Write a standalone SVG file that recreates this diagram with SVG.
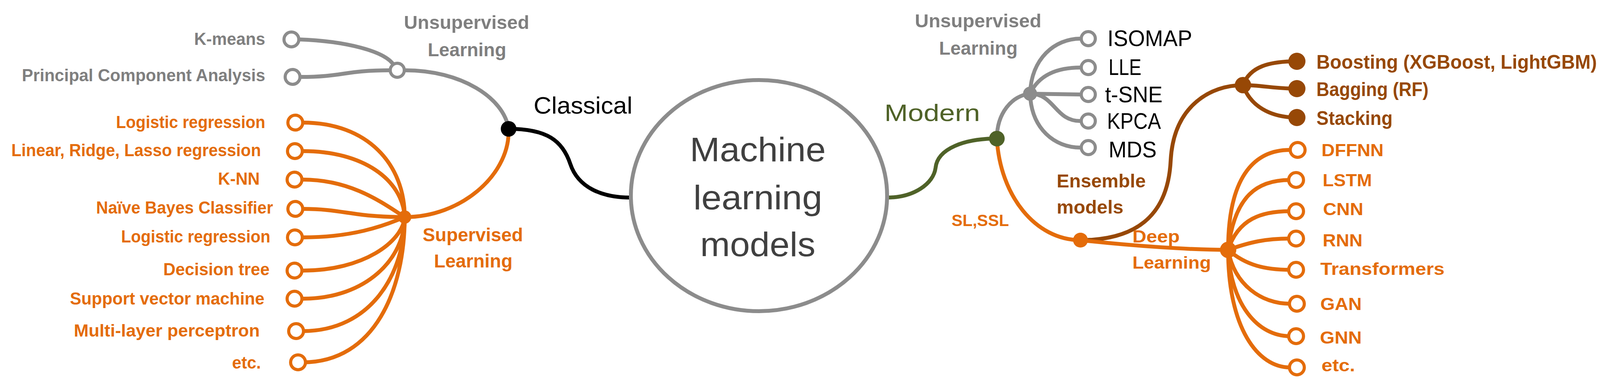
<svg xmlns="http://www.w3.org/2000/svg" width="4115" height="1004" viewBox="0 0 4115 1004">
<style>
text{font-family:"Liberation Sans",Arial,sans-serif;}
.b{font-weight:bold;}
.gt{fill:#7f7f7f;}
.ot{fill:#e46c0a;}
.bt{fill:#974806;}
.l{fill:none;stroke-width:10;stroke-linecap:round;}
.g{stroke:#8c8c8c;}
.o{stroke:#e46c0a;}
.k{stroke:#000;}
.br{stroke:#974806;}
.gr{stroke:#4f6228;}
.oc{fill:#fff;stroke-width:8;}
</style>
<g id="connectors">
<path class="l g" d="M766,101 C880,105 990,130 1010,170"/>
<path class="l g" d="M769,197 C880,197 880,180 1000,180"/>
<path class="l g" d="M1037,180 C1180,180 1290,250 1302,330"/>
<path class="l o" d="M1036,556 C1180,556 1300,450 1302,340"/>
<path class="l k" d="M1302,330 C1400,330 1440,360 1460,420 C1480,480 1540,506 1614,506"/>
<path class="l o" d="M775,314 C940,314 1036,420 1036,556"/>
<path class="l o" d="M775,387 C930,387 1030,460 1036,556"/>
<path class="l o" d="M775,460 C900,460 980,520 1036,556"/>
<path class="l o" d="M775,535 C880,535 900,556 1036,556"/>
<path class="l o" d="M775,608 C900,608 980,580 1036,556"/>
<path class="l o" d="M775,693 C930,693 1030,620 1036,556"/>
<path class="l o" d="M775,765 C940,765 1036,660 1036,556"/>
<path class="l o" d="M775,848 C950,848 1036,700 1036,556"/>
<path class="l o" d="M775,928 C960,928 1036,740 1036,556"/>
<path class="l gr" d="M2271,506 C2340,506 2390,470 2395,430 C2400,380 2470,355 2552,355"/>
<path class="l g" d="M2552,355 C2552,290 2590,245 2637,240"/>
<path class="l g" d="M2637,240 C2640,150 2700,99 2766,99"/>
<path class="l g" d="M2637,240 C2660,190 2710,173 2766,173"/>
<path class="l g" d="M2637,240 L2766,242"/>
<path class="l g" d="M2637,240 C2700,240 2700,310 2766,310"/>
<path class="l g" d="M2637,240 C2640,330 2700,378 2766,378"/>
<path class="l o" d="M2552,355 C2560,500 2650,615 2766,615"/>
<path class="l br" d="M2766,615 C2900,615 2990,560 2997,410 C3005,270 3100,218 3182,218"/>
<path class="l br" d="M3182,218 C3200,170 3250,157 3320,157"/>
<path class="l br" d="M3182,218 C3230,218 3260,227 3320,227"/>
<path class="l br" d="M3182,218 C3200,270 3250,301 3320,301"/>
<path class="l o" d="M2766,615 C2900,630 3050,640 3144,640"/>
<path class="l o" d="M3144,640 C3144,440 3220,384 3302,384"/>
<path class="l o" d="M3144,640 C3160,500 3220,461 3302,461"/>
<path class="l o" d="M3144,640 C3170,560 3230,541 3302,541"/>
<path class="l o" d="M3144,640 C3200,620 3240,611 3302,611"/>
<path class="l o" d="M3144,640 C3190,680 3240,691 3302,691"/>
<path class="l o" d="M3144,640 C3160,730 3230,778 3302,778"/>
<path class="l o" d="M3144,640 C3150,780 3220,861 3302,861"/>
<path class="l o" d="M3144,640 C3144,840 3220,941 3302,941"/>
</g>
<g id="root">
<ellipse cx="1943" cy="501" rx="328" ry="296" fill="#fff" stroke="#8c8c8c" stroke-width="10"/>
<text x="1940" y="413" font-size="88" fill="#404040" text-anchor="middle" textLength="348" lengthAdjust="spacingAndGlyphs">Machine</text>
<text x="1940" y="536" font-size="88" fill="#404040" text-anchor="middle" textLength="330" lengthAdjust="spacingAndGlyphs">learning</text>
<text x="1940" y="656" font-size="88" fill="#404040" text-anchor="middle" textLength="295" lengthAdjust="spacingAndGlyphs">models</text>
</g>
<g id="classical">
<circle cx="1302" cy="330" r="20" fill="#000"/>
<text x="1366" y="291" font-size="62" textLength="253" lengthAdjust="spacingAndGlyphs">Classical</text>
</g>
<g id="unsup-classical">
<circle class="oc" cx="1017" cy="180" r="18" stroke="#8c8c8c"/>
<text class="b gt" x="1034" y="74" font-size="48" textLength="321" lengthAdjust="spacingAndGlyphs">Unsupervised</text>
<text class="b gt" x="1095" y="144" font-size="48" textLength="201" lengthAdjust="spacingAndGlyphs">Learning</text>
<circle class="oc" cx="746" cy="101" r="19" stroke="#8c8c8c"/>
<text class="b gt" x="679" y="115" font-size="44" text-anchor="end" textLength="182" lengthAdjust="spacingAndGlyphs">K-means</text>
<circle class="oc" cx="749" cy="197" r="19" stroke="#8c8c8c"/>
<text class="b gt" x="679" y="208" font-size="44" text-anchor="end" textLength="623" lengthAdjust="spacingAndGlyphs">Principal Component Analysis</text>
</g>
<g id="sup-classical">
<circle cx="1036" cy="556" r="17" fill="#e46c0a"/>
<text class="b ot" x="1082" y="618" font-size="48" textLength="257" lengthAdjust="spacingAndGlyphs">Supervised</text>
<text class="b ot" x="1111" y="685" font-size="48" textLength="201" lengthAdjust="spacingAndGlyphs">Learning</text>
<g stroke="#e46c0a">
<circle class="oc" cx="756" cy="314" r="19"/><circle class="oc" cx="755" cy="387" r="19"/><circle class="oc" cx="754" cy="460" r="19"/><circle class="oc" cx="756" cy="535" r="19"/><circle class="oc" cx="755" cy="608" r="19"/><circle class="oc" cx="754" cy="693" r="19"/><circle class="oc" cx="754" cy="765" r="19"/><circle class="oc" cx="758" cy="848" r="19"/><circle class="oc" cx="763" cy="928" r="19"/>
</g>
<g class="b ot" font-size="44" text-anchor="end">
<text x="679" y="328" textLength="382" lengthAdjust="spacingAndGlyphs">Logistic regression</text>
<text x="668" y="400" textLength="639" lengthAdjust="spacingAndGlyphs">Linear, Ridge, Lasso regression</text>
<text x="665" y="473" textLength="107" lengthAdjust="spacingAndGlyphs">K-NN</text>
<text x="699" y="547" textLength="453" lengthAdjust="spacingAndGlyphs">Naïve Bayes Classifier</text>
<text x="692" y="621" textLength="382" lengthAdjust="spacingAndGlyphs">Logistic regression</text>
<text x="690" y="705" textLength="272" lengthAdjust="spacingAndGlyphs">Decision tree</text>
<text x="677" y="780" textLength="498" lengthAdjust="spacingAndGlyphs">Support vector machine</text>
<text x="665" y="862" textLength="476" lengthAdjust="spacingAndGlyphs">Multi-layer perceptron</text>
<text x="668" y="944" textLength="74" lengthAdjust="spacingAndGlyphs">etc.</text>
</g>
</g>
<g id="modern">
<circle cx="2552" cy="355" r="20" fill="#4f6228"/>
<text x="2264" y="310" font-size="62" fill="#4f6228" textLength="245" lengthAdjust="spacingAndGlyphs">Modern</text>
</g>
<g id="unsup-modern">
<circle cx="2637" cy="240" r="18" fill="#8c8c8c"/>
<text class="b gt" x="2342" y="70" font-size="48" textLength="324" lengthAdjust="spacingAndGlyphs">Unsupervised</text>
<text class="b gt" x="2404" y="140" font-size="48" textLength="201" lengthAdjust="spacingAndGlyphs">Learning</text>
<g stroke="#8c8c8c">
<circle class="oc" cx="2786" cy="99" r="18"/><circle class="oc" cx="2786" cy="173" r="18"/><circle class="oc" cx="2786" cy="242" r="18"/><circle class="oc" cx="2786" cy="310" r="18"/><circle class="oc" cx="2786" cy="378" r="18"/>
</g>
<g font-size="58" fill="#000">
<text x="2835" y="118" textLength="217" lengthAdjust="spacingAndGlyphs">ISOMAP</text>
<text x="2838" y="192" textLength="84" lengthAdjust="spacingAndGlyphs">LLE</text>
<text x="2829" y="262" textLength="147" lengthAdjust="spacingAndGlyphs">t-SNE</text>
<text x="2834" y="330" textLength="138" lengthAdjust="spacingAndGlyphs">KPCA</text>
<text x="2838" y="403" textLength="123" lengthAdjust="spacingAndGlyphs">MDS</text>
</g>
</g>
<g id="sl-ssl">
<circle cx="2766" cy="615" r="19" fill="#e46c0a"/>
<text class="b ot" x="2436" y="579" font-size="42" textLength="147" lengthAdjust="spacingAndGlyphs">SL,SSL</text>
</g>
<g id="ensemble">
<circle cx="3182" cy="218" r="21" fill="#974806"/>
<text class="b bt" x="2705" y="480" font-size="48" textLength="228" lengthAdjust="spacingAndGlyphs">Ensemble</text>
<text class="b bt" x="2705" y="547" font-size="48" textLength="171" lengthAdjust="spacingAndGlyphs">models</text>
<circle cx="3320" cy="157" r="22" fill="#974806"/><circle cx="3320" cy="227" r="22" fill="#974806"/><circle cx="3320" cy="301" r="22" fill="#974806"/>
<g class="b bt" font-size="50">
<text x="3370" y="176" textLength="718" lengthAdjust="spacingAndGlyphs">Boosting (XGBoost, LightGBM)</text>
<text x="3370" y="246" textLength="287" lengthAdjust="spacingAndGlyphs">Bagging (RF)</text>
<text x="3370" y="320" textLength="195" lengthAdjust="spacingAndGlyphs">Stacking</text>
</g>
</g>
<g id="deep">
<circle cx="3144" cy="640" r="21" fill="#e46c0a"/>
<text class="b ot" x="2899" y="621" font-size="44" textLength="121" lengthAdjust="spacingAndGlyphs">Deep</text>
<text class="b ot" x="2899" y="688" font-size="44" textLength="201" lengthAdjust="spacingAndGlyphs">Learning</text>
<g stroke="#e46c0a">
<circle class="oc" cx="3322" cy="384" r="19"/><circle class="oc" cx="3318" cy="461" r="19"/><circle class="oc" cx="3318" cy="541" r="19"/><circle class="oc" cx="3318" cy="611" r="19"/><circle class="oc" cx="3318" cy="691" r="19"/><circle class="oc" cx="3320" cy="778" r="19"/><circle class="oc" cx="3318" cy="861" r="19"/><circle class="oc" cx="3320" cy="941" r="19"/>
</g>
<g class="b ot" font-size="44">
<text x="3383" y="400" textLength="159" lengthAdjust="spacingAndGlyphs">DFFNN</text>
<text x="3386" y="477" textLength="126" lengthAdjust="spacingAndGlyphs">LSTM</text>
<text x="3387" y="551" textLength="103" lengthAdjust="spacingAndGlyphs">CNN</text>
<text x="3386" y="631" textLength="102" lengthAdjust="spacingAndGlyphs">RNN</text>
<text x="3380" y="704" textLength="318" lengthAdjust="spacingAndGlyphs">Transformers</text>
<text x="3380" y="794" textLength="106" lengthAdjust="spacingAndGlyphs">GAN</text>
<text x="3379" y="880" textLength="107" lengthAdjust="spacingAndGlyphs">GNN</text>
<text x="3383" y="951" textLength="86" lengthAdjust="spacingAndGlyphs">etc.</text>
</g>
</g>
</svg>
